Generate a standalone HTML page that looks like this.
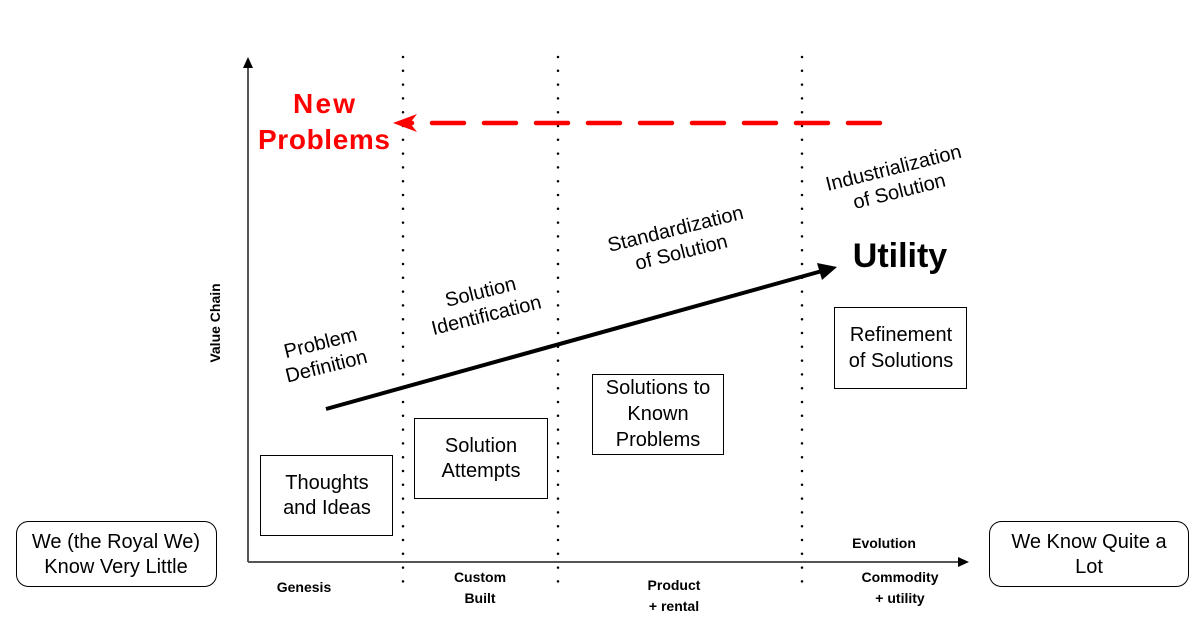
<!DOCTYPE html>
<html><head><meta charset="utf-8"><style>
body{margin:0;background:#fff}
svg{display:block}
text{font-family:"Liberation Sans",Arial,sans-serif}
</style></head><body>
<svg width="1193" height="626" viewBox="0 0 1193 626" xmlns="http://www.w3.org/2000/svg">
<!-- axes -->
<line x1="248" y1="562" x2="248" y2="62" stroke="#555" stroke-width="2"/>
<path d="M243,68 L248,57 L253,68 Z" fill="#000"/>
<line x1="248" y1="562" x2="962" y2="562" stroke="#555" stroke-width="2"/>
<path d="M958,557 L969,562 L958,567 Z" fill="#000"/>
<!-- dotted lines -->
<g stroke="#000" stroke-width="2.5" stroke-linecap="round" stroke-dasharray="0 13.8">
<line x1="403" y1="57" x2="403" y2="585"/>
<line x1="558" y1="57" x2="558" y2="585"/>
<line x1="802" y1="57" x2="802" y2="585"/>
</g>
<!-- red dashed arrow -->
<line x1="880" y1="123" x2="408" y2="123" stroke="#f00" stroke-width="4.5" stroke-linecap="round" stroke-dasharray="32 20"/>
<path d="M393,123 L417,114 L410,123 L417,132 Z" fill="#f00"/>
<text x="324" y="113" font-size="28" font-weight="bold" fill="#f00" text-anchor="middle" textLength="62">New</text>
<text x="324" y="149" font-size="28" font-weight="bold" fill="#f00" text-anchor="middle" textLength="132">Problems</text>
<!-- main arrow -->
<line x1="326" y1="409" x2="822" y2="271" stroke="#000" stroke-width="4"/>
<path d="M837,267 L817,263 L822,280 Z" fill="#000"/>
<text x="900" y="267" font-size="34" font-weight="bold" text-anchor="middle">Utility</text>
<!-- rotated labels -->
<g font-size="20" text-anchor="middle">
<g transform="translate(324,357) rotate(-14)"><text y="-8">Problem</text><text y="16">Definition</text></g>
<g transform="translate(484,306) rotate(-14)"><text y="-8">Solution</text><text y="16">Identification</text></g>
<g transform="translate(679,243) rotate(-14)"><text y="-8">Standardization</text><text y="16">of Solution</text></g>
<g transform="translate(897,182) rotate(-14)"><text y="-8">Industrialization</text><text y="16">of Solution</text></g>
</g>
<text transform="translate(220,323) rotate(-90)" font-size="14" font-weight="bold" text-anchor="middle">Value Chain</text>
<!-- boxes -->
<g fill="none" stroke="#000" stroke-width="1">
<rect x="260.5" y="455.5" width="132" height="80"/>
<rect x="414.5" y="418.5" width="133" height="80"/>
<rect x="592.5" y="374.5" width="131" height="80"/>
<rect x="834.5" y="307.5" width="132" height="81"/>
<rect x="16.5" y="521.5" width="200" height="65" rx="12"/>
<rect x="989.5" y="521.5" width="199" height="65" rx="12"/>
</g>
<g font-size="20" text-anchor="middle">
<text x="327" y="489">Thoughts</text><text x="327" y="514">and Ideas</text>
<text x="481" y="452">Solution</text><text x="481" y="477">Attempts</text>
<text x="658" y="394">Solutions to</text><text x="658" y="420">Known</text><text x="658" y="446">Problems</text>
<text x="901" y="341">Refinement</text><text x="901" y="367">of Solutions</text>
<text x="116" y="548">We (the Royal We)</text><text x="116" y="573">Know Very Little</text>
<text x="1089" y="548">We Know Quite a</text><text x="1089" y="573">Lot</text>
</g>
<g font-size="14" font-weight="bold" text-anchor="middle">
<text x="304" y="592">Genesis</text>
<text x="480" y="582">Custom</text><text x="480" y="603">Built</text>
<text x="674" y="590">Product</text><text x="674" y="611">+ rental</text>
<text x="900" y="582">Commodity</text><text x="900" y="603">+ utility</text>
<text x="884" y="548">Evolution</text>
</g>
</svg>
</body></html>
